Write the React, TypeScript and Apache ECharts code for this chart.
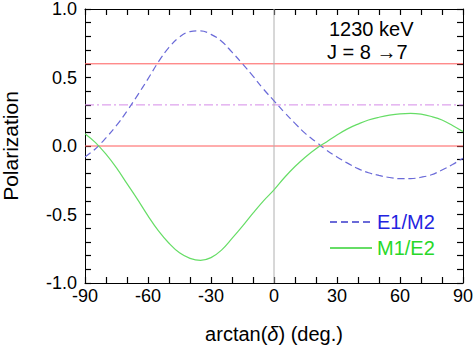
import React, { useEffect, useRef } from "react";
import * as echarts from "echarts";

const angles = [-90, -85, -80, -75, -70, -65, -60, -55, -50, -45, -40, -35, -30, -25, -20, -15, -10, -5, 0, 5, 10, 15, 20, 25, 30, 35, 40, 45, 50, 55, 60, 65, 70, 75, 80, 85, 90];
const e1m2 = [-0.08, -0.02, 0.06, 0.15, 0.255, 0.37, 0.49, 0.615, 0.72, 0.795, 0.835, 0.84, 0.815, 0.765, 0.685, 0.6, 0.51, 0.415, 0.33, 0.245, 0.165, 0.09, 0.03, -0.03, -0.08, -0.125, -0.165, -0.195, -0.215, -0.23, -0.238, -0.238, -0.228, -0.21, -0.175, -0.135, -0.09];
const m1e2 = [0.09, 0.025, -0.06, -0.16, -0.275, -0.39, -0.51, -0.62, -0.71, -0.78, -0.82, -0.835, -0.815, -0.76, -0.675, -0.585, -0.49, -0.4, -0.32, -0.23, -0.15, -0.08, -0.02, 0.03, 0.08, 0.125, 0.16, 0.19, 0.21, 0.225, 0.235, 0.238, 0.232, 0.215, 0.19, 0.15, 0.105];
const redLevels = [0.6, 0.0];
const dashDotLevel = 0.3;
const verticalAt = 0;
const annotation = ["1230 keV", "J = 8 \u21927"];

const X_MIN = -90, X_MAX = 90, Y_MIN = -1, Y_MAX = 1;
const FONT = "'Liberation Sans', Arial, Helvetica, sans-serif";
const TICK = 6;

function axisLine() {
  return { show: true, onZero: false, lineStyle: { color: "#000", width: 1 } };
}
function axisTick() {
  return { show: true, inside: true, length: TICK, lineStyle: { color: "#000", width: 1.2 } };
}
function minorTick(n: number) {
  return { show: true, splitNumber: n, length: TICK, lineStyle: { color: "#000", width: 1.2 } };
}

export default function App() {
  const ref = useRef<HTMLDivElement>(null);
  useEffect(() => {
    if (!ref.current) return;
    const chart = echarts.init(ref.current, null, { renderer: "svg" });
    const refLine = (name: string, y: number, style: any) => ({
      name, type: "line", symbol: "none", silent: true, z: 1,
      data: [[X_MIN, y], [X_MAX, y]],
      lineStyle: style,
      itemStyle: { color: style.color },
      emphasis: { disabled: true },
    });
    chart.setOption({
      animation: false,
      backgroundColor: "#fff",
      grid: { left: 85, right: 11, top: 9, bottom: 63, outerBoundsMode: "none", containLabel: false },
      legend: {
        orient: "vertical",
        left: 324,
        top: 207,
        itemWidth: 42,
        itemHeight: 10,
        itemGap: 6,
        itemStyle: { opacity: 0 },
        textStyle: { fontFamily: FONT, fontSize: 20 },
        data: [
          { name: "E1/M2", textStyle: { color: "#2323e0" } },
          { name: "M1/E2", textStyle: { color: "#28d828" } },
        ],
      },
      xAxis: [
        {
          type: "value", min: X_MIN, max: X_MAX, interval: 30,
          axisLine: axisLine(),
          axisTick: axisTick(),
          minorTick: minorTick(3),
          splitLine: { show: false },
          minorSplitLine: { show: false },
          axisLabel: { color: "#000", fontFamily: FONT, fontSize: 18, margin: 4 },
          name: "arctan({i|\u03b4}) (deg.)",
          nameLocation: "middle",
          nameGap: 41,
          nameTextStyle: {
            color: "#000", fontFamily: FONT, fontSize: 20,
            rich: { i: { fontStyle: "italic", fontFamily: FONT, fontSize: 20, color: "#000" } },
          },
        },
        {
          type: "value", min: X_MIN, max: X_MAX, interval: 30, position: "top",
          axisLine: axisLine(),
          axisTick: axisTick(),
          minorTick: minorTick(3),
          splitLine: { show: false },
          minorSplitLine: { show: false },
          axisLabel: { show: false },
        },
      ],
      yAxis: [
        {
          type: "value", min: Y_MIN, max: Y_MAX, interval: 0.5,
          axisLine: axisLine(),
          axisTick: axisTick(),
          minorTick: minorTick(5),
          splitLine: { show: false },
          minorSplitLine: { show: false },
          axisLabel: { color: "#000", fontFamily: FONT, fontSize: 18, margin: 8, formatter: (v: number) => v.toFixed(1) },
          name: "Polarization",
          nameLocation: "middle",
          nameGap: 64,
          nameTextStyle: { color: "#000", fontFamily: FONT, fontSize: 21 },
        },
        {
          type: "value", min: Y_MIN, max: Y_MAX, interval: 0.5, position: "right",
          axisLine: axisLine(),
          axisTick: axisTick(),
          minorTick: minorTick(5),
          splitLine: { show: false },
          minorSplitLine: { show: false },
          axisLabel: { show: false },
        },
      ],
      graphic: [
        {
          type: "text", left: 329, top: 19,
          style: { text: annotation[0], fontFamily: FONT, fontSize: 20, fill: "#000" },
        },
        {
          type: "text", left: 327, top: 42,
          style: { text: annotation[1], fontFamily: FONT, fontSize: 20, fill: "#000" },
        },
      ],
      series: [
        ...redLevels.map((v, i) => refLine("red" + i, v, { color: "#ff5a5a", width: 1, type: "solid" })),
        refLine("dashDot", dashDotLevel, { color: "#d58be8", width: 1, type: [9, 3, 2, 3] }),
        {
          name: "vertical", type: "line", symbol: "none", silent: true, z: 1,
          data: [[verticalAt, Y_MIN], [verticalAt, Y_MAX]],
          lineStyle: { color: "#b0b0b0", width: 1, type: "solid" },
          itemStyle: { color: "#b0b0b0" },
          emphasis: { disabled: true },
        },
        {
          name: "E1/M2",
          type: "line",
          smooth: 0.4,
          symbol: "none",
          z: 3,
          data: angles.map((a, i) => [a, e1m2[i]]),
          lineStyle: { color: "#6a6ad8", width: 1.2, type: [7, 4] },
          itemStyle: { color: "#6a6ad8" },
        },
        {
          name: "M1/E2",
          type: "line",
          smooth: 0.4,
          symbol: "none",
          z: 3,
          data: angles.map((a, i) => [a, m1e2[i]]),
          lineStyle: { color: "#66dd66", width: 1.2 },
          itemStyle: { color: "#66dd66" },
        },
      ],
    });
    return () => chart.dispose();
  }, []);
  return <div ref={ref} style={{ position: "fixed", left: 0, top: 0, width: 474, height: 346 }} />;
}
